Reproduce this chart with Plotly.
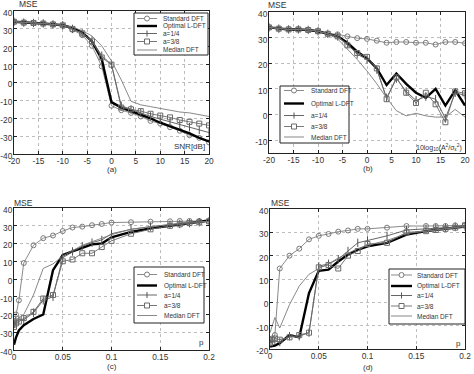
import plotly.graph_objects as go

# ---------------- data ----------------
snr = [-20, -18, -16, -14, -12, -10, -8, -6, -4, -2, 0, 2, 4, 6, 8, 10, 12, 14, 16, 18, 20]

a_std = [34, 33.5, 33.3, 33, 32.5, 32, 29.5, 26.5, 20.5, 9, -13, -15.5, -17, -19, -21.5, -23, -25, -27, -29.5, -31, -33.5]
a_opt = [34, 33.5, 33.3, 33, 32.5, 32, 30.5, 28, 23, 13, -11, -14, -16, -18, -20, -22.5, -24.5, -26.5, -28.5, -31, -33]
a_q14 = [34, 33.5, 33.3, 33, 32.5, 32, 30, 27.5, 23.5, 15, 10, -13, -15, -17, -19, -20.5, -22, -23.5, -25, -26.5, -28]
a_q38 = [34, 33.5, 33.3, 33, 32.5, 32, 30, 27.5, 23, 14, 10, -14, -15, -16, -17.5, -18.5, -19.5, -21, -22, -23, -24]
a_med = [34, 33.5, 33.3, 33, 32.5, 32, 31, 29, 26, 20.5, 12, 1.5, -10.5, -12.5, -13.5, -14.5, -15.5, -16.5, -17, -18, -19]

b_std = [34, 33.5, 33.3, 33.3, 33, 32.5, 31.5, 31.3, 30.5, 29.8, 29.5, 28.8, 28, 28.3, 28.3, 28, 28, 27.3, 28.3, 28.3, 27.8]
b_opt = [34, 33.5, 33.2, 33.2, 33, 32.5, 31.5, 30.5, 28, 24.5, 22, 18, 11.5, 16, 12, 8.5, 6.5, 10, 3.5, 9.5, 3.5]
b_q14 = [34, 33.5, 33.2, 33.2, 33, 32.5, 31.5, 30.5, 27.5, 23.5, 21.5, 17.5, 6.5, 14, 9, 5.5, 7, 6, -1.5, 8.5, 7.5]
b_q38 = [34, 33.5, 33.2, 33.2, 33, 32.5, 31.5, 30.5, 27, 24, 22.5, 18, 6, 14.5, 8.5, 4.5, 8.5, 4, -3, 9, 8.3]
b_med = [34, 33.5, 33.2, 33.2, 33, 32.5, 31.5, 29.5, 25.5, 21.5, 17, 12, 6.5, 1.5, -0.5, 0.5, -0.5, -1, -1, 2, -1]

p = [0, 0.002, 0.005, 0.01, 0.02, 0.03, 0.04, 0.05, 0.06, 0.07, 0.08, 0.09, 0.1, 0.12, 0.14, 0.16, 0.17, 0.18, 0.19, 0.2]

c_std = [-26, -20, -12, 9, 19, 23, 24.5, 27, 29, 29.5, 30.3, 31, 31.8, 32, 32.3, 32.5, 32.7, 32.7, 32.7, 32.7]
c_opt = [-37, -33, -29, -26, -22.5, -20, 5, 13.5, 15.5, 17.5, 19.5, 20, 23.5, 26.5, 28.5, 30, 30.8, 31.5, 32.2, 33]
c_q14 = [-25, -24, -23, -23, -19, -12, -10, 12, 15.5, 18.5, 20.5, 22, 25.5, 28, 29.5, 30.5, 31, 31.5, 32, 32.5]
c_q38 = [-27, -25, -24, -22, -18.5, -11, -9, 10, 11, 14.5, 14.5, 18, 21.5, 25.5, 28, 30, 30.8, 31.5, 32, 32.5]
c_med = [-22, -23, -22, -20, -9, 6, 8.5, 13, 16, 19, 21, 23, 25, 28, 29.5, 31, 31.5, 32, 32.3, 32.5]

d_std = [-16, -15.5, -14, 14.5, 20, 23, 27, 28.5, 29.3, 30.3, 30.8, 31.5, 31.5, 32, 32.7, 32.7, 32.7, 32.7, 33, 33]
d_opt = [-19, -18.8, -18.5, -17.5, -14, -15, 4, 13.5, 14, 17.5, 20.5, 22.5, 24, 25.5, 29, 30.5, 31, 31.5, 32, 32.5]
d_q14 = [-17, -17, -16.5, -17, -14.5, -14.5, -13, 15.5, 16.5, 18.5, 22, 25.5, 26.5, 28.5, 31, 31.5, 31.8, 32, 32.3, 32.5]
d_q38 = [-17.5, -16, -15.5, -16, -15, -14, -13, 15, 16, 14.5, 20, 22, 25, 25.5, 30, 30.5, 31, 31.5, 32, 33]
d_med = [-13, -10, -6.5, -11, -1, 7, 12, 14.5, 16.5, 19, 21, 23, 24.5, 26.5, 29.5, 30.5, 31, 31.5, 32, 32.5]

series_names = ["Standard DFT", "Optimal L-DFT", "a=1/4", "a=3/8", "Median DFT"]

snr_ticks = [-20, -15, -10, -5, 0, 5, 10, 15, 20]
snr_ticklabels = ["-20", "-15", "-10", "-5", "0", "5", "10", "15", "20"]
p_ticks = [0, 0.05, 0.1, 0.15, 0.2]
p_ticklabels = ["0", "0.05", "0.1", "0.15", "0.2"]
mse_ticks_a = [-40, -30, -20, -10, 0, 10, 20, 30, 40]
mse_ticks_b = [-10, 0, 10, 20, 30, 40]
mse_ticks_d = [-20, -10, 0, 10, 20, 30, 40]

panel_labels = ["(a)", "(b)", "(c)", "(d)"]
x_titles = ["SNR[dB]", "10log<sub>10</sub>(A<sup>2</sup>/σ<sub>ε</sub><sup>2</sup>)", "p", "p"]

# ---------------- layout helpers ----------------
W, H = 474, 374
def fx(x):
    return x / W
def fy(y):
    return 1 - y / H

FONT = "Liberation Sans, Arial, sans-serif"
TXT = "#333333"

styles = [
    dict(line=dict(color="#8a8a8a", width=1), mode="lines+markers",
         marker=dict(symbol="circle-open", size=5, color="#7a7a7a", line=dict(width=1))),
    dict(line=dict(color="#000000", width=2.4), mode="lines"),
    dict(line=dict(color="#555555", width=0.9), mode="lines+markers",
         marker=dict(symbol="line-ns", size=6, color="#555555", line=dict(width=1, color="#555555"))),
    dict(line=dict(color="#6a6a6a", width=0.9), mode="lines+markers",
         marker=dict(symbol="square-open", size=5, color="#6a6a6a", line=dict(width=1))),
    dict(line=dict(color="#7a7a7a", width=0.9), mode="lines"),
]

panels = [
    dict(x=snr, ys=[a_std, a_opt, a_q14, a_q38, a_med], box=(14, 209, 11, 154),
         xr=[-20, 20], yr=[-40, 40], xt=snr_ticks, xtl=snr_ticklabels, yt=mse_ticks_a),
    dict(x=snr, ys=[b_std, b_opt, b_q14, b_q38, b_med], box=(269, 465, 12, 153),
         xr=[-20, 20], yr=[-15, 40], xt=snr_ticks, xtl=snr_ticklabels, yt=mse_ticks_b),
    dict(x=p, ys=[c_std, c_opt, c_q14, c_q38, c_med], box=(14, 209, 208, 350),
         xr=[0, 0.2], yr=[-40, 40], xt=p_ticks, xtl=p_ticklabels, yt=mse_ticks_a),
    dict(x=p, ys=[d_std, d_opt, d_q14, d_q38, d_med], box=(270, 465, 209, 349),
         xr=[0, 0.2], yr=[-20, 40], xt=p_ticks, xtl=p_ticklabels, yt=mse_ticks_d),
]

fig = go.Figure()
layout = dict(width=W, height=H, margin=dict(l=0, r=0, t=0, b=0),
              paper_bgcolor="white", plot_bgcolor="white", showlegend=False,
              font=dict(family=FONT, size=8.5, color=TXT))

axis_common = dict(showline=True, linecolor="#222222", linewidth=1, mirror="allticks",
                   ticks="inside", ticklen=3, tickcolor="#222222", showgrid=True,
                   gridcolor="#bdbdbd", griddash="dot", gridwidth=1, zeroline=False,
                   tickfont=dict(family=FONT, size=8.3, color=TXT), automargin=False)

for i, pn in enumerate(panels):
    k = "" if i == 0 else str(i + 1)
    x0, x1, y0, y1 = pn["box"]
    layout["xaxis" + k] = dict(axis_common, domain=[fx(x0), fx(x1)], range=pn["xr"],
                               anchor="y" + k, tickvals=pn["xt"], ticktext=pn["xtl"],
                               ticklabelstandoff=-1)
    layout["yaxis" + k] = dict(axis_common, domain=[fy(y1), fy(y0)], range=pn["yr"],
                               anchor="x" + k, tickvals=pn["yt"],
                               ticktext=[str(v) for v in pn["yt"]], ticklabelstandoff=-1,
                               ticklabelshift=2)
    for s, yv in enumerate(pn["ys"]):
        fig.add_trace(go.Scatter(x=pn["x"], y=yv, name=series_names[s],
                                 xaxis="x" + k, yaxis="y" + k, **styles[s]))

annotations = []
shapes = []

# axis texts
mse_pos = [(28, 4), (277, 5), (23, 203), (280, 203)]
panel_pos = [(112, 169), (368, 168), (112, 366), (368, 367)]
xt_pos = [(207, 146), (464, 147), (206, 342), (463, 343)]
for i in range(4):
    annotations.append(dict(x=fx(mse_pos[i][0]), y=fy(mse_pos[i][1]), xref="paper", yref="paper",
                            text="MSE", showarrow=False, font=dict(size=8.5, color=TXT),
                            xanchor="center", yanchor="middle"))
    annotations.append(dict(x=fx(panel_pos[i][0]), y=fy(panel_pos[i][1]), xref="paper", yref="paper",
                            text=panel_labels[i], showarrow=False, font=dict(size=8, color=TXT),
                            xanchor="center", yanchor="middle"))
    annotations.append(dict(x=fx(xt_pos[i][0]), y=fy(xt_pos[i][1]), xref="paper", yref="paper",
                            text=x_titles[i], showarrow=False,
                            font=dict(size=8 if i != 1 else 7, color=TXT),
                            xanchor="right", yanchor="middle"))

# manual legends: box (x0,x1,y0,y1), sample line x range, text x, row ys
legends = [
    dict(box=(134, 208, 13, 55), lx=(137, 157), tx=161, rows=[18.5, 26, 33.5, 41.5, 50]),
    dict(box=(280, 349, 86, 143), lx=(284, 304), tx=309, rows=[90.5, 103.5, 115.5, 126.5, 137]),
    dict(box=(134, 204, 267, 323), lx=(137, 157), tx=162, rows=[274.5, 285.5, 295, 305.5, 315.5]),
    dict(box=(389, 465, 269, 324), lx=(391, 412), tx=415, rows=[275, 286, 295.5, 306, 316]),
]
for lg in legends:
    bx0, bx1, by0, by1 = lg["box"]
    shapes.append(dict(type="rect", xref="paper", yref="paper", x0=fx(bx0), x1=fx(bx1),
                       y0=fy(by1), y1=fy(by0), line=dict(color="#222222", width=1),
                       fillcolor="white", layer="above"))
    lx0, lx1 = lg["lx"]
    mx = (lx0 + lx1) / 2
    for s, ry in enumerate(lg["rows"]):
        st = styles[s]
        shapes.append(dict(type="line", xref="paper", yref="paper", x0=fx(lx0), x1=fx(lx1),
                           y0=fy(ry), y1=fy(ry), line=dict(color=st["line"]["color"],
                                                           width=st["line"]["width"]),
                           layer="above"))
        if s == 0:
            shapes.append(dict(type="circle", xref="paper", yref="paper", x0=fx(mx - 2.5),
                               x1=fx(mx + 2.5), y0=fy(ry + 2.5), y1=fy(ry - 2.5),
                               line=dict(color="#7a7a7a", width=1), fillcolor="white", layer="above"))
        elif s == 2:
            shapes.append(dict(type="line", xref="paper", yref="paper", x0=fx(mx), x1=fx(mx),
                               y0=fy(ry + 3), y1=fy(ry - 3),
                               line=dict(color="#555555", width=1), layer="above"))
        elif s == 3:
            shapes.append(dict(type="rect", xref="paper", yref="paper", x0=fx(mx - 2.5),
                               x1=fx(mx + 2.5), y0=fy(ry + 2.5), y1=fy(ry - 2.5),
                               line=dict(color="#6a6a6a", width=1), fillcolor="white", layer="above"))
        annotations.append(dict(x=fx(lg["tx"]), y=fy(ry), xref="paper", yref="paper",
                                text=series_names[s], showarrow=False,
                                font=dict(size=6.5, color=TXT), xanchor="left", yanchor="middle"))

layout["annotations"] = annotations
layout["shapes"] = shapes
fig.update_layout(**layout)

fig.write_html("out.html", config={"displayModeBar": False},
               post_script="document.body.style.margin='0';document.body.style.overflow='hidden';")
